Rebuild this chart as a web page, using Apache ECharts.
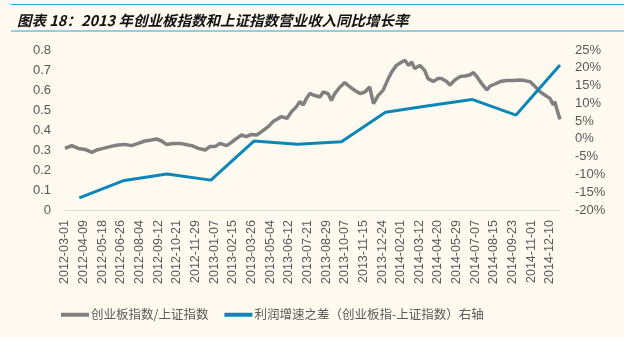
<!DOCTYPE html>
<html>
<head>
<meta charset="utf-8">
<script src="https://cdn.jsdelivr.net/npm/echarts@6/dist/echarts.min.js"></script>
<style>
html,body{margin:0;padding:0;background:#fefaef;}
#c{width:624px;height:337px;}
</style>
</head>
<body>
<div id="c"></div>
<script>
var titleText = '图表 18：2013 年创业板指数和上证指数营业收入同比增长率';
var seriesNames = ['创业板指数/上证指数', '利润增速之差（创业板指-上证指数）右轴'];

var tickDates = ['2012-03-01','2012-04-09','2012-05-18','2012-06-26','2012-08-04','2012-09-12','2012-10-21','2012-11-29',
  '2013-01-07','2013-02-15','2013-03-26','2013-05-04','2013-06-12','2013-07-21','2013-08-29','2013-10-07','2013-11-15','2013-12-24',
  '2014-02-01','2014-03-12','2014-04-20','2014-05-29','2014-07-07','2014-08-15','2014-09-23','2014-11-01','2014-12-10'];

var ratioDates = ['2012-03-01','2012-03-15','2012-03-29','2012-04-12','2012-04-26','2012-05-06','2012-05-20','2012-06-03','2012-06-20',
  '2012-07-04','2012-07-18','2012-08-01','2012-08-15','2012-08-29','2012-09-08','2012-09-19','2012-09-29','2012-10-13','2012-10-27',
  '2012-11-14','2012-11-21','2012-12-05','2012-12-19','2012-12-29','2013-01-09','2013-01-19','2013-02-02','2013-02-09','2013-02-23',
  '2013-03-05','2013-03-15','2013-03-26','2013-04-06','2013-04-16','2013-04-30','2013-05-10','2013-05-21','2013-05-28','2013-06-08',
  '2013-06-18','2013-06-28','2013-07-05','2013-07-12','2013-07-19','2013-07-26','2013-08-02','2013-08-05','2013-08-16','2013-08-23',
  '2013-09-02','2013-09-09','2013-09-16','2013-09-27','2013-10-07','2013-10-18','2013-10-28','2013-11-08','2013-11-18','2013-11-28',
  '2013-12-06','2013-12-16','2013-12-26','2014-01-06','2014-01-13','2014-01-23','2014-02-03','2014-02-10','2014-02-17','2014-02-24',
  '2014-03-02','2014-03-13','2014-03-23','2014-03-30','2014-04-10','2014-04-20','2014-04-27','2014-05-08','2014-05-15','2014-05-25',
  '2014-06-05','2014-06-15','2014-06-25','2014-07-03','2014-07-10','2014-07-20','2014-07-31','2014-08-07','2014-08-17','2014-08-28',
  '2014-09-10','2014-09-24','2014-10-08','2014-10-18','2014-10-29','2014-11-09','2014-11-19','2014-11-29','2014-12-10','2014-12-17',
  '2014-12-20','2014-12-27','2014-12-31'];
var ratioValues = [0.308,0.322,0.308,0.303,0.288,0.300,0.308,0.317,0.325,
  0.328,0.322,0.333,0.345,0.350,0.355,0.345,0.328,0.333,0.333,
  0.325,0.322,0.308,0.300,0.317,0.317,0.333,0.322,0.333,0.358,
  0.375,0.367,0.378,0.375,0.392,0.417,0.442,0.458,0.467,0.458,
  0.492,0.517,0.542,0.525,0.558,0.583,0.575,0.573,0.565,0.590,
  0.582,0.548,0.582,0.615,0.637,0.615,0.598,0.582,0.590,0.615,
  0.532,0.573,0.598,0.657,0.690,0.723,0.740,0.748,0.723,0.740,
  0.707,0.723,0.698,0.657,0.643,0.657,0.658,0.642,0.625,0.650,
  0.667,0.670,0.675,0.687,0.667,0.633,0.600,0.620,0.630,0.642,
  0.647,0.647,0.650,0.647,0.642,0.617,0.592,0.575,0.558,0.525,
  0.542,0.483,0.453];

var diffDates = ['2012-03-31','2012-06-30','2012-09-30','2012-12-31','2013-03-31','2013-06-30',
  '2013-09-30','2013-12-31','2014-03-31','2014-06-30','2014-09-30','2014-12-31'];
var diffValues = [-16.6,-11.8,-9.9,-11.6,-0.6,-1.5,-0.8,7.5,9.3,11.1,6.7,20.8];

var leftTicks = {min:0, max:0.8, interval:0.1};
var rightTicks = {min:-20, max:25, interval:5};
var xRange = ['2012-03-01','2014-12-31'];

function toLocal(s){var p=s.split('-');return new Date(+p[0],+p[1]-1,+p[2]).getTime();}
function pad(n){return n<10?'0'+n:''+n;}
function fmt(v){var d=new Date(v);return d.getFullYear()+'-'+pad(d.getMonth()+1)+'-'+pad(d.getDate());}

var ratioData = ratioDates.map(function(d,i){return [toLocal(d), ratioValues[i]];});
var diffData = diffDates.map(function(d,i){return [toLocal(d), diffValues[i]];});
var tickVals = tickDates.map(toLocal);

var chart = echarts.init(document.getElementById('c'), null, {renderer:'canvas'});
var txt = '#595959';
chart.setOption({
  backgroundColor:'#fefaef',
  animation:false,
  title:{text:titleText,left:12,top:8,textStyle:{fontFamily:'Noto Sans CJK SC',fontSize:14.5,fontWeight:'bold',fontStyle:'italic',color:'#111'}},
  graphic:[
    {type:'line',shape:{x1:11,y1:4.5,x2:624,y2:4.5},style:{stroke:'#2a9fd6',lineWidth:1.2}},
    {type:'line',shape:{x1:11,y1:31,x2:624,y2:31},style:{stroke:'#2a9fd6',lineWidth:1.2}}
  ],
  grid:{left:65,right:64,top:50,bottom:127},
  legend:{
    bottom:11,left:56,itemGap:16,itemWidth:28,itemHeight:4,
    textStyle:{fontFamily:'Noto Sans CJK SC',fontSize:12.5,color:txt,padding:[0,0,0,-3]},
    data:[{name:seriesNames[0],icon:'rect'},{name:seriesNames[1],icon:'rect'}]
  },
  xAxis:{
    type:'value',
    min:toLocal(xRange[0]),max:toLocal(xRange[1]),
    axisLine:{show:true,onZero:false,lineStyle:{color:'#d9d9d9',width:1}},
    axisTick:{show:false},
    splitLine:{show:false},
    axisLabel:{
      customValues:tickVals,
      rotate:90,margin:10,fontSize:12.5,color:txt,fontFamily:'Liberation Sans',
      hideOverlap:false,
      formatter:function(v){return fmt(v);}
    }
  },
  yAxis:[
    {type:'value',min:leftTicks.min,max:leftTicks.max,interval:leftTicks.interval,
     axisLine:{show:false},axisTick:{show:false},splitLine:{show:false},
     axisLabel:{margin:14,fontSize:13,color:txt,fontFamily:'Liberation Sans',formatter:function(v){return String(+v.toFixed(1));}}},
    {type:'value',min:rightTicks.min,max:rightTicks.max,interval:rightTicks.interval,position:'right',
     axisLine:{show:false},axisTick:{show:false},splitLine:{show:false},
     axisLabel:{margin:15,fontSize:13,color:txt,fontFamily:'Liberation Sans',formatter:function(v){return Math.round(v)+'%';}}}
  ],
  series:[
    {name:seriesNames[0],type:'line',yAxisIndex:0,data:ratioData,showSymbol:false,symbol:'none',
     lineStyle:{color:'#808080',width:3.5},itemStyle:{color:'#808080'},z:2},
    {name:seriesNames[1],type:'line',yAxisIndex:1,data:diffData,showSymbol:false,symbol:'none',
     lineStyle:{color:'#0c86b8',width:3},itemStyle:{color:'#0c86b8'},z:3}
  ]
});
</script>
</body>
</html>
